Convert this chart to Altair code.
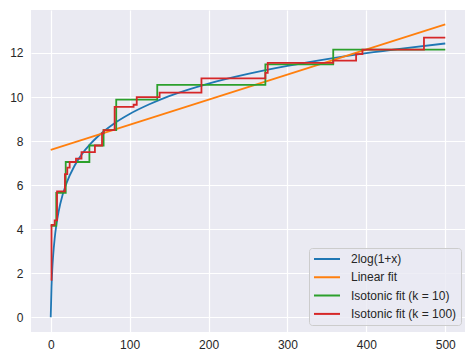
import altair as alt
import pandas as pd

blue_x = [0, 1, 2, 3, 5, 7, 10, 15, 20, 30, 40, 50, 60, 80, 100, 125, 150, 200, 250, 300, 350, 400, 450, 500]
blue_y = [0.0, 1.39, 2.2, 2.77, 3.58, 4.16, 4.8, 5.55, 6.09, 6.87, 7.43, 7.86, 8.22, 8.79, 9.23, 9.67, 10.04,
          10.61, 11.05, 11.41, 11.72, 11.99, 12.22, 12.43]

# Linear fit
lin_x = [0, 500]
lin_y = [7.6, 13.3]

# Isotonic fit (k = 10)
iso10_x = [0, 7, 19, 49, 67, 83, 135, 272, 358, 500]
iso10_y = [4.15, 5.65, 7.05, 7.8, 8.5, 9.88, 10.55, 11.48, 12.15, 12.15]

# Isotonic fit (k = 100)
iso100_x = [0, 1, 5, 8, 18, 21, 24, 32, 39, 56, 65, 67, 81, 105, 109, 138, 191, 272, 275, 358, 387, 395, 473, 500]
iso100_y = [1.7, 4.2, 4.4, 5.72, 6.5, 6.8, 7.05, 7.2, 7.5, 7.8, 8.35, 8.5, 9.55, 9.65, 10.0, 10.2, 10.85, 11.1,
            11.55, 11.65, 11.95, 12.15, 12.7, 12.7]

series_names = ["2log(1+x)", "Linear fit", "Isotonic fit (k = 10)", "Isotonic fit (k = 100)"]
series_colors = ["#1f77b4", "#ff7f0e", "#2ca02c", "#d62728"]
x_ticks = [0, 100, 200, 300, 400, 500]
y_ticks = [0, 2, 4, 6, 8, 10, 12]


def frame(xs, ys, name):
    return pd.DataFrame({"x": xs, "y": ys, "series": name})


color = alt.Color(
    "series:N",
    scale=alt.Scale(domain=series_names, range=series_colors),
    legend=alt.Legend(
        title=None,
        orient="none",
        legendX=278,
        legendY=238,
        symbolType="stroke",
        symbolSize=676,
        symbolStrokeWidth=2,
        clipHeight=14,
        labelFontSize=12,
        labelFont="Liberation Sans",
        labelColor="#262626",
        labelOffset=10,
        padding=4,
        rowPadding=4.3,
        fillColor="rgba(234,234,242,0.8)",
        strokeColor="#cccccc",
        cornerRadius=3,
    ),
)

xenc = alt.X("x:Q", scale=alt.Scale(domain=[-25, 525], nice=False, zero=False),
             axis=alt.Axis(values=x_ticks, title=None))
yenc = alt.Y("y:Q", scale=alt.Scale(domain=[-0.665, 13.95], nice=False, zero=False),
             axis=alt.Axis(values=y_ticks, title=None))


def layer(df, interp):
    return alt.Chart(df).mark_line(interpolate=interp, strokeWidth=1.8, clip=True).encode(
        x=xenc, y=yenc, color=color, order=alt.value(0)
    )


chart = alt.layer(
    layer(frame(blue_x, blue_y, series_names[0]), "monotone"),
    layer(frame(lin_x, lin_y, series_names[1]), "linear"),
    layer(frame(iso10_x, iso10_y, series_names[2]), "step-after"),
    layer(frame(iso100_x, iso100_y, series_names[3]), "step-after"),
).properties(
    width=434,
    height=322,
    autosize=alt.AutoSizeParams(type="none"),
    padding={"left": 23, "top": 2, "right": 1, "bottom": 20},
).configure_view(
    fill="#EAEAF2", stroke=None
).configure_axis(
    domain=False,
    ticks=False,
    grid=True,
    gridColor="white",
    gridWidth=1.2,
    labelFont="Liberation Sans",
    labelFontSize=12,
    labelColor="#262626",
    labelPadding=7,
).configure_axisY(
    labelPadding=8
)

chart.save("out.html", embed_options={"renderer": "svg", "actions": False})
